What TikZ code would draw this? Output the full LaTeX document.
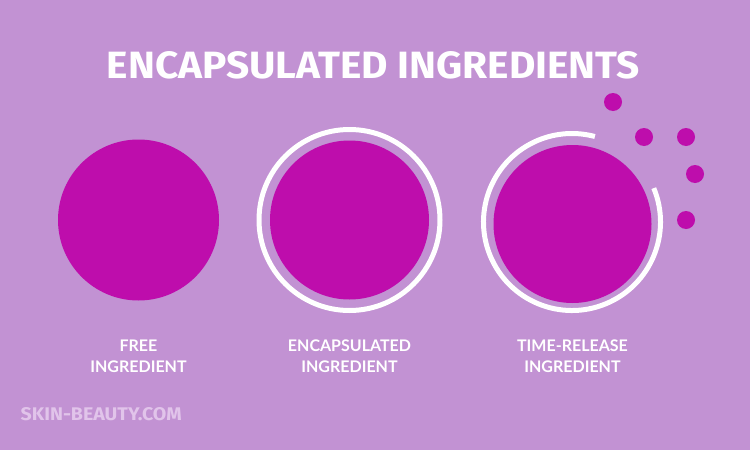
\documentclass[tikz,border=0pt]{standalone}
\usepackage{fontspec}
\usepackage{graphicx}
\usetikzlibrary{positioning, calc}
\newfontfamily\titlefont{Fira Sans}
\newfontfamily\labelfont{Lato}
\definecolor{bgpurple}{RGB}{194,146,211}
\definecolor{coremag}{RGB}{190,13,172}
\definecolor{markpink}{RGB}{225,196,234}

\begin{document}
\begin{tikzpicture}[x=1pt, y=-1pt,
	core/.style={circle, fill=coremag, draw=none, inner sep=0pt},
	shell/.style={draw=white, line width=5pt},
	drop/.style={circle, fill=coremag, inner sep=0pt, minimum size=18pt},
	caption/.style={align=center, text=white, font=\labelfont\bfseries\fontsize{16}{21.5}\selectfont, inner sep=0pt}]
		
		%//background, 750 x 450
		\fill[bgpurple] (0,0) rectangle (750,450);
		\useasboundingbox (0,0) rectangle (750,450);
		
		%//title
		\node[inner sep=0pt, text=white] (title) at (373.5,65.5) {\resizebox{533pt}{27pt}{\titlefont\bfseries ENCAPSULATED INGREDIENTS}};
		
		%//the three cores
		\node[core, minimum size=161pt] (free) at (138.5,220) {};
		\node[core, minimum size=159pt] (enc) at (349.5,220) {};
		\node[core, minimum size=158pt] (rel) at (572.5,224) {};
		
		%//shells
		\draw[shell] (enc) circle[radius=90.5];
		\draw[shell] ([shift={(-22.5:88.5)}]572,222) arc[start angle=-22.5, end angle=285, radius=88.5];
		
		%//released drops
		\foreach \x/\y [count=\i] in {613/102, 644/137, 686/137, 695/174, 686/220}
		\node[drop] (drop\i) at (\x,\y) {};
		
		%//captions (base = last line)
		\foreach \n/\x/\val in {freecap/138.5/{FREE\\INGREDIENT}, enccap/349.5/{ENCAPSULATED\\INGREDIENT}, relcap/572.5/{TIME-RELEASE\\INGREDIENT}}
		\node[caption, anchor=base] (\n) at (\x,372.5) {\val};
		
		%//watermark
		\node[inner sep=0pt, text=markpink, anchor=north west] (mark) at (20.5,407) {\resizebox{161pt}{13pt}{\titlefont\bfseries SKIN-BEAUTY.COM}};
		
\end{tikzpicture}
\end{document}
